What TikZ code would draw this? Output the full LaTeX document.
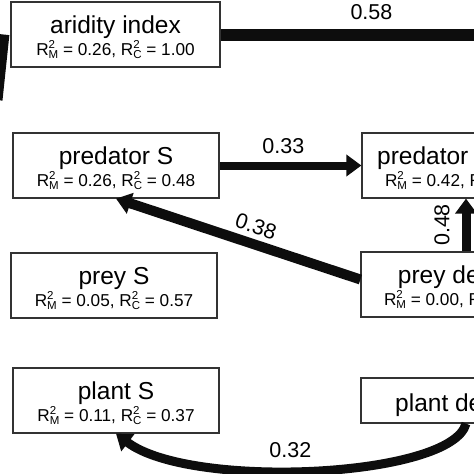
\documentclass[tikz,border=0pt]{standalone}
\usepackage{fontspec}
\setmainfont{Liberation Sans}
\usetikzlibrary{arrows.meta}

\newcommand{\rsq}[1]{R\rlap{\raisebox{6.6pt}{\fontsize{11.5}{12}\selectfont 2}}%
  \raisebox{-3.2pt}{\fontsize{11.5}{12}\selectfont #1}}
\newcommand{\ttl}{\fontsize{24.5}{22}\selectfont\rule{0pt}{22.5pt}}

\tikzset{
  var/.style={draw=black!80, line width=1.2pt, fill=white, minimum width=206pt,
    minimum height=65pt, align=center, inner sep=0pt,
    font=\fontsize{17.2}{22}\selectfont},
  link/.style={line width=#1, draw=black!95},
  eff/.style={link=#1, -{Triangle[length=15pt,width=21pt]}},
  coef/.style={font=\fontsize{21.5}{22}\selectfont, inner sep=0pt},
}

\begin{document}
\begin{tikzpicture}[x=1pt,y=-1pt]
  \useasboundingbox (0,0) rectangle (474,474);
  \clip (0,0) rectangle (474,474);

  % left column
  \node[var, minimum width=209pt] (aridity) at (115.5,34.5)
    {{\ttl aridity index}\\\rsq{M} = 0.26, \rsq{C} = 1.00};
  \node[var] (predS) at (116,165.5)
    {{\ttl predator S}\\\rsq{M} = 0.26, \rsq{C} = 0.48};
  \node[var] (preyS) at (114,285.5)
    {{\ttl prey S}\\\rsq{M} = 0.05, \rsq{C} = 0.57};
  \node[var] (plantS) at (116,400.5)
    {{\ttl plant S}\\\rsq{M} = 0.11, \rsq{C} = 0.37};

  % right column, cut by the frame
  \node[var] (predD) at (465,165.5)
    {{\ttl predator density}\\\makebox[160pt][l]{\rsq{M} = 0.42, R}};
  \node[var] (preyD) at (464,284.5)
    {{\ttl prey density}\\\makebox[160pt][l]{\rsq{M} = 0.00, R}};
  \node[var, minimum height=45pt] (plantD) at (464,400.5)
    {{\fontsize{24.5}{22}\selectfont\rule{0pt}{27.5pt}plant density}};

  \coordinate (offR) at (490,34.5);
  \coordinate (offL) at (-3.5,100);

  % paths
  \draw[link=12pt] ([xshift=-7pt]aridity.west) -- (offL);
  \draw[link=12pt] (aridity.east) -- (offR)
    node[coef, pos=.56, above=9pt] {0.58};
  \draw[eff=8pt] (predS.east) -- (predD.west)
    node[coef, pos=.45, above=7.5pt] {0.33};
  \draw[eff=10pt] ([yshift=5pt]preyD.west) -- (predS.south)
    node[coef, sloped, pos=.45, above=5pt] {0.38};
  \draw[eff=9pt] ([xshift=2pt]preyD.north) -- ([xshift=1pt]predD.south)
    node[coef, midway, xshift=-24pt, rotate=90] {0.48};
  \draw[eff=9pt] ([xshift=2pt]plantD.south) .. controls (452,478) and (190,490) .. (plantS.south)
    node[coef, pos=.55, above=8pt] {0.32};

  % \draw[help lines,step=10] (0,0) grid (474,474);
\end{tikzpicture}
\end{document}
